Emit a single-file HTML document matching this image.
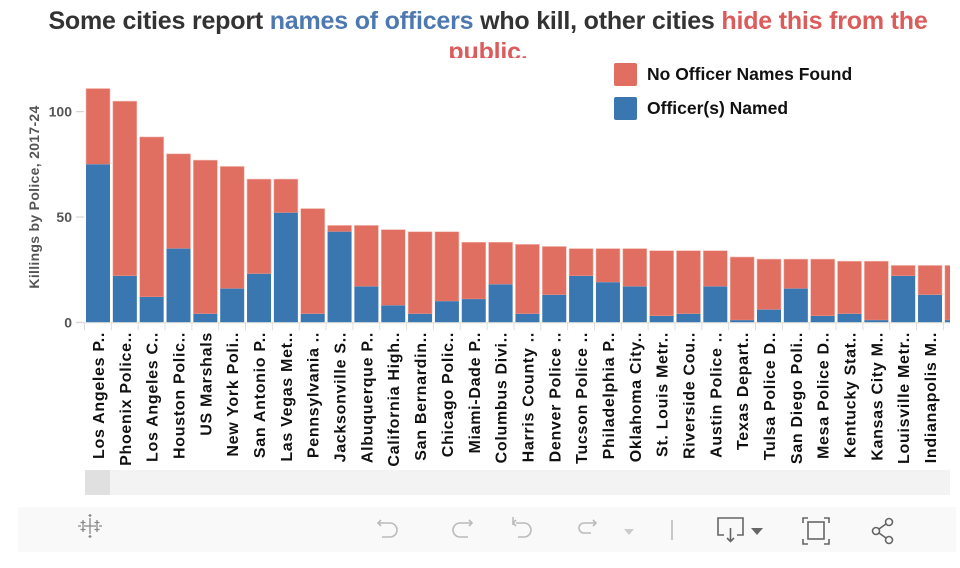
<!DOCTYPE html>
<html><head><meta charset="utf-8"><style>
html,body{margin:0;padding:0;background:#fff;}
body{width:960px;height:568px;position:relative;overflow:hidden;font-family:"Liberation Sans",Arial,sans-serif;}
#title{position:absolute;left:18px;top:6px;width:940px;height:52px;overflow:hidden;text-align:center;font-weight:bold;font-size:25px;line-height:31px;color:#333;letter-spacing:-0.2px;}
.b{color:#4e79b0}.r{color:#dc5b5b}
</style></head><body>
<div id="title">Some cities report <span class="b">names of officers</span> who kill, other cities <span class="r">hide this from the public.</span></div>
<svg id="chart" width="960" height="568" style="position:absolute;left:0;top:0"></svg>
<script>
const categories=["Los Angeles P..","Phoenix Police..","Los Angeles C..","Houston Polic..","US Marshals","New York Poli..","San Antonio P..","Las Vegas Met..","Pennsylvania ..","Jacksonville S..","Albuquerque P..","California High..","San Bernardin..","Chicago Polic..","Miami-Dade P..","Columbus Divi..","Harris County ..","Denver Police ..","Tucson Police ..","Philadelphia P..","Oklahoma City..","St. Louis Metr..","Riverside Cou..","Austin Police ..","Texas Depart..","Tulsa Police D..","San Diego Poli..","Mesa Police D..","Kentucky Stat..","Kansas City M..","Louisville Metr..","Indianapolis M..",""];
const named=[75,22,12,35,4,16,23,52,4,43,17,8,4,10,11,18,4,13,22,19,17,3,4,17,1,6,16,3,4,1,22,13,1];
const notNamed=[36,83,76,45,73,58,45,16,50,3,29,36,39,33,27,20,33,23,13,16,18,31,30,17,30,24,14,27,25,28,5,14,26];
const yTicks=[0,50,100];
const NS="http://www.w3.org/2000/svg";
const svg=document.getElementById('chart');
const y0=322.3, pxPer=2.106, x0=86, pitch=26.84, bw=24;
function yScale(v){return y0-v*pxPer;}
function xScale(i){return x0+i*pitch;}
function mk(tag,attrs,parent){const e=document.createElementNS(NS,tag);for(const k in attrs)e.setAttribute(k,attrs[k]);(parent||svg).appendChild(e);return e;}
let t=mk('text',{x:0,y:0,transform:'translate(39,197) rotate(-90)','text-anchor':'middle','font-size':'14','letter-spacing':'0.3','font-weight':'bold',fill:'#555','font-family':'Liberation Sans, Arial, sans-serif'});
t.textContent='Killings by Police, 2017-24';


yTicks.forEach(v=>{
  const l=mk('line',{x1:76,x2:84,y1:yScale(v),y2:yScale(v),stroke:'#ccc','stroke-width':1});
  
  
  const tx=mk('text',{x:72,y:yScale(v)+5,'text-anchor':'end','font-size':'14','font-weight':'bold',fill:'#555','font-family':'Liberation Sans, Arial, sans-serif'});
  tx.textContent=v;
  
  
});
const cp=mk('clipPath',{id:'cp'});mk('rect',{x:84,y:0,width:866,height:568},cp);
const g=mk('g',{'clip-path':'url(#cp)'});
categories.forEach((c,i)=>{
  const x=xScale(i);
  const tot=named[i]+notNamed[i];
  const r=mk('rect',{x:x,y:yScale(tot),width:bw,height:yScale(named[i])-yScale(tot),fill:'#e06f62',stroke:'#f2b8b0','stroke-width':0.6},g);
  
  
  const b=mk('rect',{x:x,y:yScale(named[i]),width:bw,height:y0-yScale(named[i]),fill:'#3a76b0'},g);
  
  
  const tk=mk('line',{x1:x-1.5,x2:x-1.5,y1:y0,y2:y0+8,stroke:'#ddd','stroke-width':1},g);
  
  
  if(c){
    const lb=mk('text',{x:0,y:0,transform:`translate(${x+bw/2+6},332) rotate(-90)`,'text-anchor':'end','font-size':'16','letter-spacing':'0.7','font-weight':'bold',fill:'#111','font-family':'Liberation Sans, Arial, sans-serif'},g);
    lb.textContent=c;
    
    
  }
});
const ax=mk('line',{x1:76,x2:950,y1:y0+0.5,y2:y0+0.5,stroke:'#ddd','stroke-width':1});


</script>
<div style="position:absolute;left:614px;top:62px;font-weight:bold;font-size:17.5px;color:#111;">
  <div style="position:absolute;left:0;top:0;white-space:nowrap;"><span style="position:absolute;left:0;top:1px;width:23px;height:23px;background:#e06f62;border-radius:2px;"></span><span style="position:absolute;left:33px;top:2px;">No Officer Names Found</span></div>
  <div style="position:absolute;left:0;top:35px;white-space:nowrap;"><span style="position:absolute;left:0;top:0;width:23px;height:23px;background:#3a76b0;border-radius:2px;"></span><span style="position:absolute;left:33px;top:1px;">Officer(s) Named</span></div>
</div>
<div style="position:absolute;left:85px;top:470px;width:865px;height:25px;background:#f3f3f3;"></div>
<div style="position:absolute;left:85px;top:470px;width:25px;height:25px;background:#e0e0e0;"></div>
<div style="position:absolute;left:18px;top:507px;width:938px;height:45px;background:#f9f9f9;"></div>
<svg width="960" height="568" style="position:absolute;left:0;top:0;pointer-events:none" fill="none" stroke="#bbb" stroke-width="1.6">
  <g stroke="#888" stroke-width="1.3">
    <path d="M90 518v16M82 526h16M83 520v5M80.5 522.5h5M97 520v5M94.5 522.5h5M83 527v5M80.5 529.5h5M97 527v5M94.5 529.5h5M90 514v3M88.5 515.5h3M90 535v3M88.5 536.5h3M78 526h3M99 526h3"/>
  </g>
  <g><path d="M381 520l-3 3 3 3M378 523h12a7 7 0 0 1 0 14h-8"/></g>
  <g><path d="M469 520l3 3-3 3M472 523h-12a7 7 0 0 0 0 14h8"/></g>
  <g><path d="M513 517v8M516 520l-3 3 3 3M516 523h8a7 7 0 0 1 0 14h-6"/></g>
  <g><path d="M593 520l3 3-3 3M596 523h-12a5 5 0 0 0 0 10h7"/></g>
  <path d="M624 529h10l-5 6z" fill="#ccc" stroke="none"/>
  <line x1="672" y1="520" x2="672" y2="540"/>
  <g stroke="#666"><path d="M724 535h-6v-17h25v17h-6M730.5 528v13M727 538l3.5 3.5 3.5-3.5"/></g>
  <path d="M751 528h12l-6 7z" fill="#666" stroke="none"/>
  <g stroke="#666"><path d="M803 523v-5h5M824 518h5v5M829 539v5h-5M808 544h-5v-5"/><rect x="808" y="522" width="16" height="17"/></g>
  <g stroke="#666"><circle cx="876" cy="531" r="3.5"/><circle cx="889" cy="522" r="3.5"/><circle cx="889" cy="540" r="3.5"/><path d="M879 529l7-5M879 533l7 5"/></g>
</svg>
</body></html>
